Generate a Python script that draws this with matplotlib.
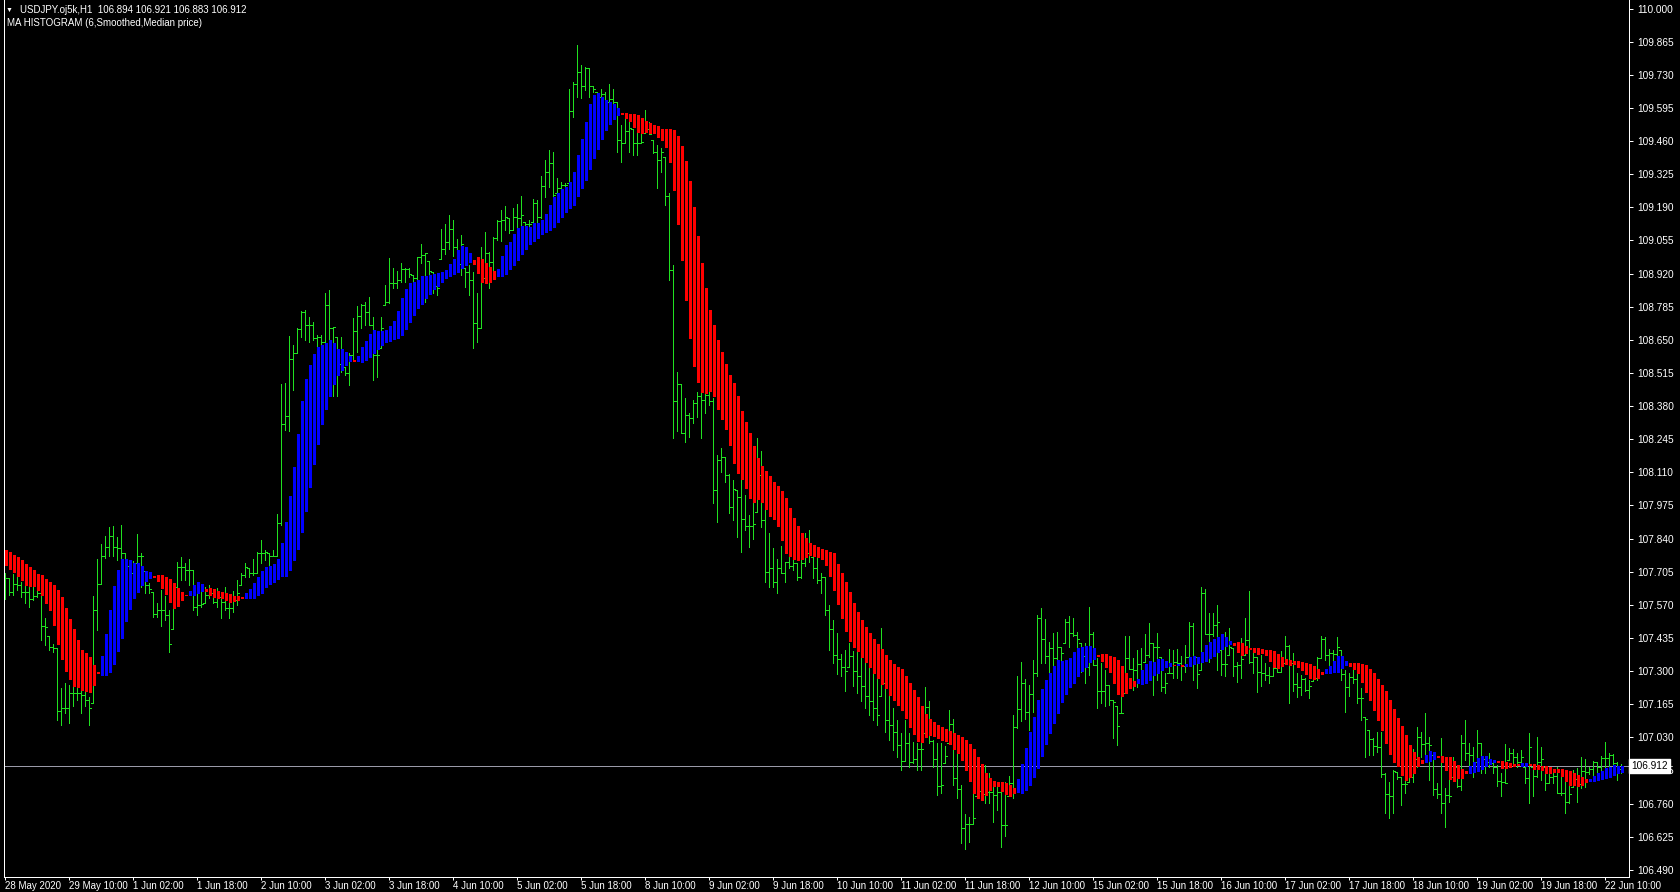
import matplotlib.pyplot as plt
from matplotlib.transforms import blended_transform_factory
import numpy as np

plt.rcParams['font.family'] = ['Liberation Sans', 'DejaVu Sans']

symbol = "USDJPY.oj5k,H1"
last_ohlc = [106.894, 106.921, 106.883, 106.912]
indicator = "MA HISTOGRAM (6,Smoothed,Median price)"

time_labels = ["28 May 2020", "29 May 10:00", "1 Jun 02:00", "1 Jun 18:00", "2 Jun 10:00",
               "3 Jun 02:00", "3 Jun 18:00", "4 Jun 10:00", "5 Jun 02:00", "5 Jun 18:00",
               "8 Jun 10:00", "9 Jun 02:00", "9 Jun 18:00", "10 Jun 10:00", "11 Jun 02:00",
               "11 Jun 18:00", "12 Jun 10:00", "15 Jun 02:00", "15 Jun 18:00", "16 Jun 10:00",
               "17 Jun 02:00", "17 Jun 18:00", "18 Jun 10:00", "19 Jun 02:00", "19 Jun 18:00",
               "22 Jun 10:00"]
bars_per_label = 16

price_ticks = [106.490, 106.625, 106.760, 106.895, 107.030, 107.165, 107.300, 107.435, 107.570,
               107.705, 107.840, 107.975, 108.110, 108.245, 108.380, 108.515, 108.650, 108.785,
               108.920, 109.055, 109.190, 109.325, 109.460, 109.595, 109.730, 109.865, 110.000]

# hourly bars, 28 May 18:00 .. 22 Jun 10:00
highs = [
    107.699, 107.678, 107.696, 107.690, 107.665, 107.647, 107.644, 107.651, 107.670, 107.658,
    107.515, 107.443, 107.410, 107.393, 107.230, 107.251, 107.244, 107.267, 107.244, 107.237,
    107.251, 107.196, 107.604, 107.756, 107.818, 107.851, 107.889, 107.892, 107.848, 107.896,
    107.780, 107.750, 107.750, 107.859, 107.780, 107.706, 107.660, 107.624, 107.576, 107.631,
    107.604, 107.549, 107.600, 107.746, 107.764, 107.739, 107.756, 107.712, 107.624, 107.638,
    107.644, 107.651, 107.624, 107.638, 107.617, 107.644, 107.604, 107.628, 107.672, 107.701,
    107.742, 107.720, 107.756, 107.787, 107.835, 107.794, 107.783, 107.794, 107.941, 108.470,
    108.473, 108.666, 108.629, 108.697, 108.769, 108.772, 108.742, 108.724, 108.670, 108.670,
    108.840, 108.853, 108.701, 108.663, 108.663, 108.541, 108.595, 108.738, 108.788, 108.796,
    108.802, 108.826, 108.742, 108.609, 108.742, 108.874, 108.982, 108.942, 108.932, 108.962,
    108.942, 108.942, 108.914, 108.989, 109.041, 109.005, 108.973, 108.928, 108.921, 109.100,
    109.120, 109.160, 109.140, 109.060, 109.077, 108.941, 108.955, 108.927, 108.840, 109.030,
    109.090, 109.009, 109.070, 109.138, 109.179, 109.195, 109.145, 109.186, 109.203, 109.236,
    109.131, 109.138, 109.224, 109.219, 109.317, 109.382, 109.423, 109.416, 109.308, 109.294,
    109.290, 109.674, 109.701, 109.851, 109.769, 109.763, 109.756, 109.684, 109.660, 109.674,
    109.660, 109.692, 109.674, 109.620, 109.525, 109.552, 109.559, 109.511, 109.505, 109.532,
    109.586, 109.539, 109.464, 109.443, 109.430, 109.396, 109.247, 108.955, 108.520, 108.470,
    108.411, 108.350, 108.405, 108.438, 108.432, 108.432, 108.438, 108.411, 108.180, 108.208,
    108.174, 108.103, 108.079, 108.038, 108.079, 108.018, 107.936, 107.984, 108.248, 108.198,
    107.991, 107.864, 107.800, 107.757, 107.810, 107.746, 107.780, 107.759, 107.739, 107.753,
    107.861, 107.875, 107.766, 107.766, 107.698, 107.685, 107.569, 107.508, 107.454, 107.370,
    107.386, 107.413, 107.380, 107.380, 107.360, 107.350, 107.320, 107.300, 107.280, 107.474,
    107.250, 107.200, 107.150, 107.100, 107.047, 107.101, 107.047, 107.013, 107.006, 107.006,
    107.237, 107.180, 107.020, 107.006, 107.006, 106.993, 107.142, 107.104, 106.965, 106.837,
    106.718, 106.705, 106.803, 106.830, 106.857, 106.918, 106.884, 106.850, 106.830, 106.816,
    106.850, 106.873, 107.122, 107.278, 107.335, 107.267, 107.244, 107.346, 107.529, 107.556,
    107.511, 107.420, 107.454, 107.461, 107.400, 107.511, 107.525, 107.515, 107.461, 107.414,
    107.414, 107.563, 107.461, 107.352, 107.332, 107.305, 107.244, 107.183, 107.156, 107.196,
    107.441, 107.444, 107.352, 107.386, 107.393, 107.452, 107.495, 107.413, 107.454, 107.359,
    107.291, 107.389, 107.384, 107.389, 107.360, 107.407, 107.502, 107.495, 107.359, 107.644,
    107.633, 107.536, 107.536, 107.570, 107.386, 107.461, 107.475, 107.393, 107.335, 107.434,
    107.515, 107.628, 107.393, 107.359, 107.366, 107.332, 107.318, 107.318, 107.352, 107.380,
    107.441, 107.407, 107.373, 107.291, 107.284, 107.271, 107.264, 107.290, 107.359, 107.444,
    107.438, 107.389, 107.386, 107.438, 107.384, 107.305, 107.291, 107.325, 107.298, 107.230,
    107.114, 107.060, 107.026, 107.053, 107.053, 106.883, 106.849, 106.897, 106.890, 106.870,
    106.870, 106.890, 106.981, 107.073, 107.053, 107.130, 107.033, 106.958, 106.843, 107.026,
    106.822, 106.951, 106.951, 106.910, 107.039, 107.101, 107.006, 106.992, 107.060, 107.006,
    106.951, 106.965, 106.924, 106.917, 106.883, 107.003, 106.985, 106.981, 106.968, 106.978,
    106.910, 107.046, 106.910, 107.033, 106.992, 106.910, 106.910, 106.897, 106.910, 106.870,
    106.856, 106.870, 106.897, 106.904, 106.949, 106.940, 106.910, 106.935, 106.931, 106.954,
    107.012, 106.968, 106.962, 106.931, 106.921,
]
lows = [
    107.594, 107.610, 107.610, 107.630, 107.601, 107.576, 107.560, 107.590, 107.600, 107.427,
    107.407, 107.386, 107.376, 107.101, 107.081, 107.128, 107.090, 107.156, 107.183, 107.128,
    107.156, 107.081, 107.169, 107.468, 107.655, 107.760, 107.767, 107.767, 107.753, 107.712,
    107.670, 107.640, 107.660, 107.672, 107.644, 107.617, 107.620, 107.522, 107.522, 107.484,
    107.509, 107.376, 107.470, 107.644, 107.672, 107.672, 107.651, 107.549, 107.529, 107.563,
    107.576, 107.597, 107.576, 107.560, 107.515, 107.549, 107.515, 107.540, 107.570, 107.651,
    107.685, 107.685, 107.692, 107.699, 107.740, 107.753, 107.733, 107.767, 107.767, 107.896,
    108.283, 108.280, 108.446, 108.595, 108.660, 108.650, 108.643, 108.650, 108.600, 108.620,
    108.600, 108.419, 108.419, 108.419, 108.520, 108.507, 108.466, 108.568, 108.602, 108.697,
    108.711, 108.711, 108.486, 108.497, 108.616, 108.792, 108.799, 108.860, 108.860, 108.887,
    108.887, 108.905, 108.880, 108.887, 108.962, 108.806, 108.880, 108.840, 108.833, 108.980,
    109.000, 109.020, 108.990, 108.930, 108.914, 108.866, 108.832, 108.617, 108.640, 108.700,
    108.880, 108.860, 108.907, 109.056, 109.054, 109.097, 109.084, 109.097, 109.111, 109.111,
    109.104, 109.097, 109.131, 109.124, 109.145, 109.233, 109.274, 109.233, 109.247, 109.263,
    109.267, 109.287, 109.559, 109.640, 109.634, 109.668, 109.640, 109.660, 109.560, 109.640,
    109.580, 109.586, 109.586, 109.416, 109.376, 109.450, 109.416, 109.403, 109.403, 109.450,
    109.491, 109.488, 109.410, 109.267, 109.335, 109.199, 108.893, 108.250, 108.280, 108.269,
    108.235, 108.255, 108.310, 108.337, 108.248, 108.350, 108.384, 107.984, 107.909, 108.113,
    108.072, 107.943, 107.916, 107.848, 107.787, 107.875, 107.807, 107.837, 107.950, 107.888,
    107.664, 107.644, 107.644, 107.617, 107.698, 107.664, 107.719, 107.712, 107.671, 107.678,
    107.728, 107.746, 107.678, 107.657, 107.617, 107.529, 107.386, 107.332, 107.290, 107.280,
    107.220, 107.318, 107.240, 107.210, 107.180, 107.150, 107.120, 107.100, 107.080, 107.200,
    107.050, 107.020, 106.980, 106.950, 106.898, 106.934, 106.911, 106.925, 106.898, 106.898,
    107.047, 107.006, 106.908, 106.796, 106.803, 106.925, 107.006, 106.837, 106.782, 106.599,
    106.574, 106.602, 106.678, 106.790, 106.775, 106.764, 106.764, 106.687, 106.735, 106.585,
    106.629, 106.789, 106.782, 107.067, 107.098, 107.104, 107.061, 107.135, 107.278, 107.332,
    107.332, 107.237, 107.237, 107.346, 107.346, 107.413, 107.400, 107.443, 107.400, 107.298,
    107.251, 107.285, 107.325, 107.149, 107.169, 107.158, 107.162, 107.026, 107.000, 107.128,
    107.210, 107.308, 107.223, 107.237, 107.250, 107.339, 107.359, 107.203, 107.264, 107.217,
    107.210, 107.291, 107.271, 107.271, 107.264, 107.298, 107.359, 107.264, 107.230, 107.305,
    107.451, 107.339, 107.441, 107.305, 107.285, 107.280, 107.366, 107.278, 107.257, 107.271,
    107.366, 107.332, 107.291, 107.213, 107.240, 107.264, 107.253, 107.278, 107.298, 107.298,
    107.332, 107.169, 107.217, 107.194, 107.203, 107.217, 107.190, 107.260, 107.264, 107.352,
    107.346, 107.325, 107.346, 107.346, 107.264, 107.135, 107.197, 107.253, 107.169, 107.101,
    106.951, 106.958, 106.958, 106.972, 106.870, 106.720, 106.700, 106.720, 106.859, 106.754,
    106.805, 106.850, 106.850, 106.911, 106.951, 106.938, 106.856, 106.795, 106.782, 106.720,
    106.666, 106.768, 106.870, 106.829, 106.815, 106.938, 106.911, 106.870, 106.911, 106.884,
    106.884, 106.911, 106.884, 106.832, 106.791, 106.843, 106.938, 106.924, 106.911, 106.924,
    106.843, 106.764, 106.791, 106.870, 106.856, 106.815, 106.845, 106.845, 106.802, 106.795,
    106.723, 106.761, 106.829, 106.768, 106.822, 106.829, 106.880, 106.877, 106.884, 106.897,
    106.870, 106.897, 106.884, 106.856, 106.883,
]
closes = [
    107.678, 107.624, 107.655, 107.650, 107.624, 107.624, 107.594, 107.604, 107.620, 107.484,
    107.481, 107.400, 107.396, 107.139, 107.149, 107.149, 107.210, 107.210, 107.210, 107.203,
    107.183, 107.149, 107.547, 107.655, 107.769, 107.807, 107.851, 107.805, 107.800, 107.780,
    107.730, 107.700, 107.740, 107.769, 107.769, 107.650, 107.635, 107.532, 107.549, 107.549,
    107.529, 107.410, 107.560, 107.726, 107.726, 107.712, 107.712, 107.560, 107.570, 107.574,
    107.610, 107.617, 107.583, 107.601, 107.583, 107.556, 107.556, 107.590, 107.620, 107.692,
    107.723, 107.700, 107.700, 107.780, 107.783, 107.784, 107.770, 107.770, 107.905, 108.307,
    108.340, 108.572, 108.595, 108.693, 108.765, 108.711, 108.711, 108.656, 108.660, 108.640,
    108.790, 108.697, 108.701, 108.550, 108.580, 108.514, 108.588, 108.684, 108.745, 108.792,
    108.765, 108.711, 108.588, 108.590, 108.700, 108.802, 108.880, 108.883, 108.894, 108.937,
    108.937, 108.920, 108.900, 108.986, 108.996, 109.003, 108.930, 108.870, 108.860, 109.020,
    109.050, 109.100, 109.030, 108.960, 109.040, 108.925, 108.893, 108.720, 108.700, 108.900,
    109.002, 108.968, 109.063, 109.135, 109.138, 109.150, 109.097, 109.149, 109.145, 109.160,
    109.120, 109.120, 109.209, 109.149, 109.276, 109.335, 109.369, 109.240, 109.267, 109.280,
    109.280, 109.582, 109.692, 109.742, 109.684, 109.756, 109.684, 109.670, 109.600, 109.650,
    109.620, 109.630, 109.620, 109.464, 109.453, 109.500, 109.515, 109.450, 109.450, 109.457,
    109.510, 109.490, 109.416, 109.382, 109.416, 109.237, 108.934, 108.400, 108.470, 108.270,
    108.343, 108.330, 108.391, 108.421, 108.405, 108.425, 108.400, 108.038, 108.160, 108.174,
    108.099, 107.967, 108.042, 108.008, 107.918, 107.891, 107.891, 107.900, 108.100, 107.916,
    107.705, 107.719, 107.664, 107.719, 107.698, 107.746, 107.730, 107.742, 107.685, 107.739,
    107.780, 107.790, 107.720, 107.671, 107.685, 107.549, 107.470, 107.366, 107.348, 107.316,
    107.300, 107.362, 107.300, 107.280, 107.240, 107.200, 107.180, 107.150, 107.120, 107.250,
    107.100, 107.080, 107.050, 107.000, 106.934, 107.006, 106.931, 106.941, 106.982, 106.982,
    107.153, 107.017, 106.941, 106.830, 106.837, 106.955, 107.085, 106.864, 106.819, 106.660,
    106.677, 106.677, 106.700, 106.810, 106.800, 106.809, 106.809, 106.796, 106.809, 106.673,
    106.673, 106.843, 107.071, 107.145, 107.253, 107.135, 107.207, 107.294, 107.515, 107.430,
    107.362, 107.393, 107.352, 107.400, 107.373, 107.502, 107.454, 107.447, 107.430, 107.360,
    107.318, 107.452, 107.325, 107.220, 107.217, 107.244, 107.183, 107.176, 107.077, 107.131,
    107.352, 107.308, 107.305, 107.330, 107.300, 107.366, 107.416, 107.400, 107.400, 107.237,
    107.250, 107.294, 107.335, 107.332, 107.320, 107.359, 107.484, 107.359, 107.290, 107.620,
    107.452, 107.450, 107.488, 107.502, 107.329, 107.329, 107.400, 107.320, 107.325, 107.350,
    107.427, 107.339, 107.359, 107.298, 107.291, 107.285, 107.278, 107.312, 107.298, 107.332,
    107.403, 107.332, 107.248, 107.234, 107.267, 107.223, 107.240, 107.270, 107.352, 107.430,
    107.366, 107.373, 107.370, 107.400, 107.288, 107.237, 107.275, 107.267, 107.190, 107.189,
    107.103, 107.022, 106.995, 106.992, 106.881, 106.799, 106.791, 106.894, 106.870, 106.840,
    106.840, 106.870, 106.940, 107.033, 107.003, 107.006, 107.000, 106.820, 106.799, 106.764,
    106.795, 106.791, 106.920, 106.832, 107.008, 106.968, 106.960, 106.930, 107.006, 106.940,
    106.930, 106.940, 106.910, 106.853, 106.849, 106.845, 106.968, 106.950, 106.930, 106.950,
    106.863, 106.989, 106.872, 106.930, 106.940, 106.845, 106.870, 106.872, 106.802, 106.805,
    106.768, 106.800, 106.860, 106.840, 106.894, 106.890, 106.900, 106.931, 106.910, 106.944,
    106.944, 106.958, 106.927, 106.900, 106.912,
]
first_open = 107.660

# the two lines of the MA histogram (fast above slow -> blue, below -> red)
ma_fast = [
    107.730, 107.712, 107.699, 107.685, 107.667, 107.648, 107.644, 107.642, 107.627, 107.604,
    107.574, 107.543, 107.484, 107.407, 107.346, 107.298, 107.264, 107.237, 107.230, 107.219,
    107.214, 107.210, 107.241, 107.289, 107.362, 107.452, 107.549, 107.647, 107.712, 107.756,
    107.756, 107.753, 107.742, 107.739, 107.729, 107.708, 107.705, 107.681, 107.661, 107.634,
    107.610, 107.579, 107.553, 107.563, 107.587, 107.606, 107.627, 107.651, 107.665, 107.655,
    107.624, 107.606, 107.597, 107.593, 107.593, 107.587, 107.579, 107.583, 107.584, 107.596,
    107.620, 107.635, 107.658, 107.683, 107.709, 107.723, 107.729, 107.737, 107.756, 107.821,
    107.909, 108.014, 108.131, 108.267, 108.401, 108.489, 108.546, 108.593, 108.620, 108.629,
    108.636, 108.650, 108.636, 108.612, 108.612, 108.602, 108.582, 108.561, 108.584, 108.620,
    108.646, 108.674, 108.690, 108.684, 108.684, 108.688, 108.707, 108.727, 108.769, 108.822,
    108.857, 108.883, 108.887, 108.894, 108.910, 108.910, 108.914, 108.917, 108.921, 108.928,
    108.935, 108.959, 108.978, 109.014, 109.032, 109.027, 109.002, 108.955, 108.918, 108.880,
    108.877, 108.880, 108.894, 108.937, 108.991, 109.036, 109.048, 109.081, 109.105, 109.113,
    109.113, 109.111, 109.124, 109.127, 109.138, 109.162, 109.199, 109.233, 109.247, 109.263,
    109.274, 109.293, 109.335, 109.403, 109.468, 109.539, 109.611, 109.647, 109.654, 109.640,
    109.627, 109.620, 109.611, 109.593, 109.566, 109.549, 109.536, 109.514, 109.491, 109.488,
    109.494, 109.488, 109.488, 109.473, 109.460, 109.433, 109.372, 109.256, 109.118, 108.971,
    108.808, 108.653, 108.541, 108.475, 108.432, 108.429, 108.438, 108.415, 108.364, 108.323,
    108.282, 108.218, 108.144, 108.103, 108.079, 108.041, 108.001, 107.984, 107.997, 107.986,
    107.956, 107.929, 107.916, 107.889, 107.830, 107.777, 107.764, 107.753, 107.749, 107.753,
    107.759, 107.769, 107.766, 107.759, 107.753, 107.730, 107.685, 107.628, 107.569, 107.512,
    107.461, 107.420, 107.393, 107.379, 107.352, 107.332, 107.311, 107.290, 107.268, 107.245,
    107.225, 107.200, 107.178, 107.158, 107.138, 107.105, 107.070, 107.040, 107.013, 107.006,
    107.029, 107.036, 107.031, 107.022, 107.016, 107.013, 106.997, 106.979, 106.963, 106.934,
    106.894, 106.846, 106.800, 106.779, 106.771, 106.792, 106.812, 106.827, 106.828, 106.808,
    106.793, 106.785, 106.801, 106.861, 106.922, 106.987, 107.052, 107.113, 107.183, 107.228,
    107.264, 107.293, 107.321, 107.346, 107.342, 107.346, 107.355, 107.378, 107.395, 107.397,
    107.403, 107.404, 107.396, 107.359, 107.339, 107.314, 107.294, 107.249, 107.203, 107.196,
    107.207, 107.226, 107.237, 107.268, 107.305, 107.329, 107.342, 107.337, 107.350, 107.350,
    107.342, 107.333, 107.321, 107.329, 107.316, 107.329, 107.358, 107.362, 107.358, 107.378,
    107.407, 107.420, 107.431, 107.439, 107.452, 107.439, 107.423, 107.403, 107.374, 107.363,
    107.370, 107.386, 107.374, 107.367, 107.371, 107.362, 107.339, 107.314, 107.309, 107.316,
    107.325, 107.322, 107.325, 107.314, 107.301, 107.285, 107.267, 107.264, 107.267, 107.285,
    107.309, 107.321, 107.342, 107.362, 107.362, 107.342, 107.317, 107.305, 107.289, 107.253,
    107.212, 107.179, 107.137, 107.097, 107.056, 107.004, 106.959, 106.927, 106.908, 106.874,
    106.853, 106.866, 106.882, 106.910, 106.921, 106.958, 106.974, 106.972, 106.947, 106.927,
    106.894, 106.858, 106.849, 106.862, 106.862, 106.882, 106.913, 106.931, 106.947, 106.955,
    106.954, 106.942, 106.938, 106.927, 106.902, 106.902, 106.906, 106.910, 106.913, 106.927,
    106.925, 106.915, 106.898, 106.898, 106.893, 106.882, 106.882, 106.885, 106.885, 106.868,
    106.848, 106.833, 106.833, 106.829, 106.833, 106.845, 106.862, 106.874, 106.886, 106.894,
    106.906, 106.910, 106.917, 106.915, 106.915,
]
ma_slow = [
    107.794, 107.784, 107.773, 107.764, 107.753, 107.737, 107.726, 107.710, 107.696, 107.692,
    107.676, 107.661, 107.651, 107.631, 107.600, 107.559, 107.513, 107.472, 107.427, 107.386,
    107.373, 107.359, 107.323, 107.298, 107.278, 107.278, 107.294, 107.323, 107.376, 107.431,
    107.498, 107.547, 107.593, 107.620, 107.647, 107.665, 107.674, 107.688, 107.692, 107.692,
    107.685, 107.676, 107.658, 107.638, 107.624, 107.610, 107.604, 107.604, 107.615, 107.624,
    107.635, 107.638, 107.634, 107.627, 107.624, 107.620, 107.615, 107.606, 107.607, 107.601,
    107.594, 107.594, 107.594, 107.604, 107.615, 107.638, 107.649, 107.658, 107.672, 107.683,
    107.685, 107.708, 107.747, 107.794, 107.862, 107.950, 108.048, 108.138, 108.222, 108.301,
    108.362, 108.415, 108.464, 108.504, 108.523, 108.544, 108.561, 108.568, 108.561, 108.557,
    108.565, 108.575, 108.593, 108.609, 108.625, 108.636, 108.643, 108.650, 108.654, 108.667,
    108.690, 108.718, 108.747, 108.775, 108.792, 108.815, 108.833, 108.853, 108.867, 108.880,
    108.897, 108.905, 108.914, 108.921, 108.938, 108.952, 108.961, 108.975, 108.989, 108.978,
    108.961, 108.945, 108.930, 108.907, 108.904, 108.914, 108.934, 108.951, 108.971, 108.995,
    109.016, 109.036, 109.050, 109.059, 109.077, 109.085, 109.095, 109.105, 109.127, 109.147,
    109.168, 109.183, 109.196, 109.233, 109.264, 109.297, 109.340, 109.385, 109.425, 109.465,
    109.500, 109.525, 109.545, 109.562, 109.572, 109.576, 109.572, 109.572, 109.566, 109.552,
    109.543, 109.532, 109.525, 109.521, 109.511, 109.509, 109.509, 109.505, 109.480, 109.440,
    109.378, 109.297, 109.191, 109.073, 108.963, 108.861, 108.771, 108.710, 108.650, 108.600,
    108.552, 108.505, 108.472, 108.421, 108.360, 108.315, 108.269, 108.217, 108.167, 108.136,
    108.117, 108.095, 108.072, 108.054, 108.034, 108.004, 107.963, 107.925, 107.891, 107.861,
    107.844, 107.821, 107.814, 107.804, 107.796, 107.793, 107.787, 107.780, 107.736, 107.701,
    107.664, 107.621, 107.576, 107.542, 107.508, 107.478, 107.454, 107.429, 107.410, 107.390,
    107.366, 107.345, 107.328, 107.318, 107.309, 107.281, 107.252, 107.223, 107.195, 107.158,
    107.126, 107.105, 107.093, 107.081, 107.073, 107.065, 107.056, 107.047, 107.040, 107.032,
    107.020, 107.003, 106.983, 106.950, 106.922, 106.885, 106.865, 106.853, 106.849, 106.849,
    106.845, 106.836, 106.824, 106.802, 106.800, 106.812, 106.832, 106.866, 106.900, 106.948,
    106.997, 107.044, 107.085, 107.126, 107.171, 107.203, 107.233, 107.249, 107.274, 107.298,
    107.314, 107.331, 107.346, 107.366, 107.370, 107.370, 107.362, 107.358, 107.346, 107.321,
    107.291, 107.271, 107.260, 107.248, 107.244, 107.248, 107.261, 107.278, 107.289, 107.301,
    107.312, 107.318, 107.325, 107.321, 107.325, 107.318, 107.318, 107.324, 107.329, 107.332,
    107.337, 107.348, 107.359, 107.373, 107.384, 107.397, 107.407, 107.415, 107.419, 107.415,
    107.404, 107.396, 107.394, 107.394, 107.390, 107.386, 107.386, 107.382, 107.370, 107.358,
    107.350, 107.346, 107.342, 107.342, 107.337, 107.333, 107.329, 107.321, 107.309, 107.297,
    107.289, 107.289, 107.291, 107.291, 107.309, 107.321, 107.333, 107.333, 107.333, 107.329,
    107.325, 107.308, 107.292, 107.268, 107.243, 107.219, 107.182, 107.145, 107.109, 107.076,
    107.040, 106.999, 106.970, 106.950, 106.938, 106.927, 106.931, 106.938, 106.951, 106.954,
    106.951, 106.950, 106.934, 106.917, 106.901, 106.893, 106.882, 106.886, 106.890, 106.898,
    106.909, 106.919, 106.925, 106.935, 106.934, 106.931, 106.927, 106.923, 106.919, 106.909,
    106.909, 106.919, 106.921, 106.919, 106.915, 106.913, 106.909, 106.902, 106.901, 106.901,
    106.898, 106.894, 106.886, 106.878, 106.868, 106.862, 106.848, 106.848, 106.853, 106.856,
    106.860, 106.866, 106.872, 106.881, 106.883,
]

W, H = 1680, 892
fig = plt.figure(figsize=(W / 100, H / 100), dpi=100, facecolor="black")
# plot area: x 4..1629 px, y 0..877 px
ax = fig.add_axes([4 / W, (H - 877) / H, 1625 / W, 877 / H])
ax.set_facecolor("black")

n = len(highs)
x = np.arange(n)
hi = np.array(highs)
lo = np.array(lows)
cl = np.array(closes)
op = np.clip(np.r_[first_open, cl[:-1]], lo, hi)

green = "#20e020"
px = 0.72  # one pixel in points

# current price line
ax.axhline(closes[-1], color="#9a9aa8", lw=px, zorder=1)

# OHLC bars
ax.vlines(x, lo, hi, color=green, lw=px, antialiased=False, zorder=2)
ax.hlines(op, x - 0.55, x, color=green, lw=px, antialiased=False, zorder=2)
ax.hlines(cl, x, x + 0.55, color=green, lw=px, antialiased=False, zorder=2)

# MA histogram
fast = np.array(ma_fast)
slow = np.array(ma_slow)
mid = (fast + slow) / 2
height = np.maximum(np.abs(fast - slow), 0.007)
colors = np.where(fast >= slow, "#0000ff", "#ff0000")
ax.bar(x - 0.05, height, bottom=mid - height / 2, width=0.72, align="edge",
       color=colors, linewidth=0, antialiased=False, zorder=3)

ax.set_xlim(-0.25, 406.0)
ax.set_ylim(110 - 877 / 245.4 + 8.5 / 245.4, 110 + 8.5 / 245.4)

for side in ["left", "bottom", "right"]:
    ax.spines[side].set_color("white")
    ax.spines[side].set_linewidth(px)
ax.spines["top"].set_visible(False)

ax.yaxis.tick_right()
ax.set_yticks(price_ticks)
ax.set_yticklabels([f"{p:.3f}" for p in price_ticks])
ax.tick_params(axis="y", colors="white", labelcolor="white", labelsize=7.3,
               length=3, width=px, pad=3, direction="out")

ax.set_xticks([bars_per_label * k for k in range(len(time_labels))])
ax.set_xticklabels(time_labels)
for lab in ax.get_xticklabels():
    lab.set_horizontalalignment("left")
ax.tick_params(axis="x", colors="white", labelcolor="white", labelsize=7,
               length=2.5, width=px, pad=0.5, direction="out")

# price label on the axis
trans = blended_transform_factory(ax.transAxes, ax.transData)
ax.text(1.0015, closes[-1], f"{closes[-1]:.3f}", transform=trans, fontsize=7.3,
        color="black", va="center", ha="left", zorder=10,
        bbox=dict(facecolor="white", edgecolor="white", boxstyle="square,pad=0.2"))

# header
fig.text(6 / W, 1 - 10 / H, "\u25bc", fontsize=5, color="white", va="center", ha="left")
header = symbol + "  " + " ".join(f"{v:.3f}" for v in last_ohlc)
fig.text(20 / W, 1 - 10 / H, header, fontsize=7, color="white", va="center", ha="left")
fig.text(7 / W, 1 - 23 / H, indicator, fontsize=7, color="white", va="center", ha="left")

fig.savefig("out.png", dpi=100, facecolor="black")
